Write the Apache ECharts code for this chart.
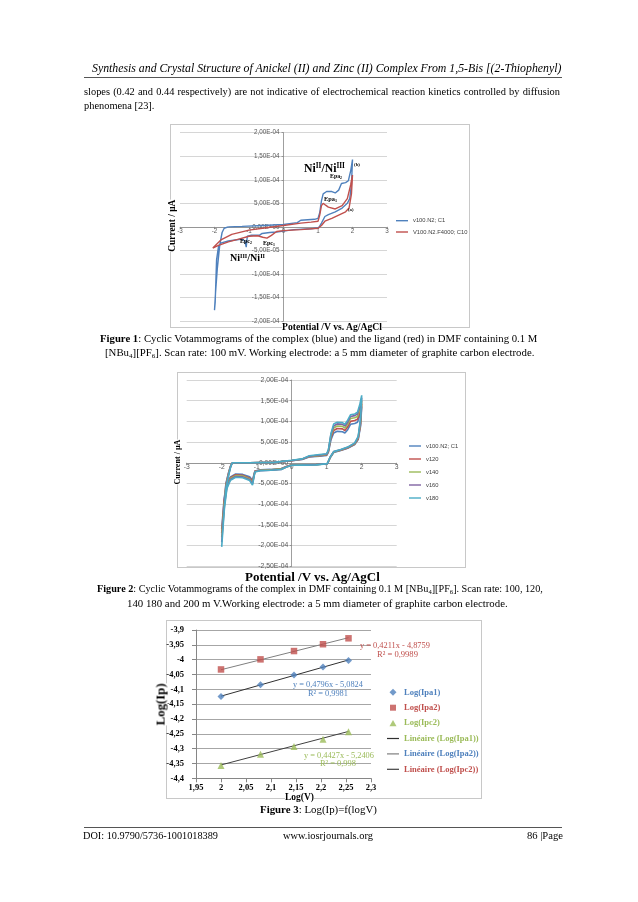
<!DOCTYPE html>
<html><head><meta charset="utf-8">
<script src="https://cdn.jsdelivr.net/npm/echarts@6/dist/echarts.min.js"></script>
<style>
html,body{margin:0;padding:0;background:#fff;}
#page{position:relative;width:638px;height:902px;overflow:hidden;background:#fff;}
#chart{position:absolute;left:0;top:0;width:638px;height:902px;z-index:1;}
.frame{position:absolute;border:1px solid #c8c8c8;box-sizing:border-box;z-index:0;}
.hr{position:absolute;height:0;border-top:1px solid #555;z-index:0;}
.t{position:absolute;white-space:nowrap;font-family:'Liberation Serif','DejaVu Serif',serif;font-size:10px;line-height:1;color:#000;z-index:2;}
.b{font-weight:bold;}
.bg{background:#fff;}
sub{font-size:.65em;vertical-align:-0.25em;line-height:0;}
sup{font-size:.62em;vertical-align:0.5em;line-height:0;}
</style></head>
<body>
<div id="page">
  <!-- page text -->
  <span class="t" style="font-style:italic" data-x="92" data-y="69" data-w="470">Synthesis and Crystal Structure of Anickel (II) and Zinc (II) Complex From 1,5-Bis [(2-Thiophenyl)</span>
  <div class="hr" style="left:84px;top:77px;width:478px;"></div>
  <div class="t" style="width:476px;white-space:normal;text-align:justify;text-align-last:justify;font-size:10.4px;" data-x="84" data-y="92">slopes (0.42 and 0.44 respectively) are not indicative of electrochemical reaction kinetics controlled by diffusion</div>
  <span class="t" style="font-size:10.4px;" data-x="84" data-y="106">phenomena [23].</span>

  <span class="t" data-x="100" data-y="338" data-w="438"><b>Figure 1</b>: Cyclic Votammograms of the complex (blue) and the ligand (red) in DMF containing 0.1 M</span>
  <span class="t" data-x="105" data-y="352" data-w="430">[NBu<sub>4</sub>][PF<sub>6</sub>]. Scan rate: 100 mV. Working electrode: a 5 mm diameter of graphite carbon electrode.</span>

  <span class="t" data-x="97" data-y="589.5" data-w="446"><b>Figure 2</b>: Cyclic Votammograms of the complex in DMF containing 0.1 M [NBu<sub>4</sub>][PF<sub>6</sub>]. Scan rate: 100, 120,</span>
  <span class="t" data-x="127" data-y="603" data-w="381">140 180 and 200 m V.Working electrode: a 5 mm diameter of graphite carbon electrode.</span>

  <span class="t" data-x="260" data-y="809" data-w="117"><b>Figure 3</b>: Log(Ip)=f(logV)</span>

  <div class="hr" style="left:84px;top:827px;width:478px;"></div>
  <span class="t" data-x="83" data-y="836" data-w="135">DOI: 10.9790/5736-1001018389</span>
  <span class="t" data-x="283" data-y="836" data-w="90">www.iosrjournals.org</span>
  <span class="t" data-x="527" data-y="836" data-w="36">86 |Page</span>

  <!-- chart frames -->
  <div class="frame" style="left:170px;top:124px;width:300px;height:204px;"></div>
  <div class="frame" style="left:177px;top:372px;width:289px;height:196px;"></div>
  <div class="frame" style="left:166px;top:620px;width:316px;height:179px;"></div>

  <div id="chart"></div>

  <!-- axis titles -->
  <span class="t b bg" data-x="282" data-y="327" data-w="100">Potential /V vs. Ag/AgCl</span>
  <span class="t b bg" data-rot="1" data-x="172.5" data-y="226" data-w="52">Current / µA</span>
  <span class="t b bg" data-x="245" data-y="577" data-w="135">Potential /V vs. Ag/AgCl</span>
  <span class="t b bg" data-rot="1" data-x="178" data-y="462" data-w="45">Current / µA</span>
  <span class="t b bg" data-rot="1" data-x="161" data-y="704" data-w="42">Log(Ip)</span>
  <span class="t b bg" data-x="285" data-y="798" data-w="29">Log(V)</span>

  <!-- figure 1 annotations -->
  <span class="t b" data-x="304" data-y="169" data-w="41">Ni<sup>II</sup>/Ni<sup>III</sup></span>
  <span class="t b" data-x="230" data-y="258" data-w="35">Ni<sup>III</sup>/Ni<sup>II</sup></span>
  <span class="t b" data-x="354" data-y="165.7" data-w="6">(b)</span>
  <span class="t b" data-x="348" data-y="210.7" data-w="5.5">(a)</span>
  <span class="t b" data-x="330" data-y="176.7" data-w="12">Epa<sub>2</sub></span>
  <span class="t b" data-x="324" data-y="199" data-w="13">Epa<sub>1</sub></span>
  <span class="t b" data-x="263" data-y="243" data-w="12">Epc<sub>1</sub></span>
  <span class="t b" data-x="240" data-y="241" data-w="12">Epc<sub>2</sub></span>

  <!-- figure 3 trendline equations -->
  <span class="t" style="color:#C0504D" data-x="360" data-y="646" data-w="70">y = 0,4211x - 4,8759</span>
  <span class="t" style="color:#C0504D" data-x="377" data-y="654" data-w="41">R² = 0,9989</span>
  <span class="t" style="color:#4F81BD" data-x="293" data-y="685" data-w="70">y = 0,4796x - 5,0824</span>
  <span class="t" style="color:#4F81BD" data-x="308" data-y="694" data-w="40">R² = 0,9981</span>
  <span class="t" style="color:#9BBB59" data-x="304" data-y="755.7" data-w="70">y = 0,4427x - 5,2406</span>
  <span class="t" style="color:#9BBB59" data-x="320" data-y="764.3" data-w="36">R² = 0,998</span>
</div>

<script>
// ---------------- DATA ----------------
// Figure 1 (current in units of 1E-05 A)
const potential1Complex = [-1.60,-1.20,-0.60,0.00,0.40,0.50,0.90,1.00,1.05,1.10,1.15,1.25,1.40,1.50,1.60,1.68,1.80,1.88,1.95,2.00,1.97,1.92,1.85,1.70,1.50,1.30,1.20,1.10,1.02,0.80,0.30,0.00,-0.20,-0.40,-0.62,-0.70,-0.95,-1.05,-1.08,-1.12,-1.20,-1.40,-1.60,-1.80,-1.88,-1.94,-1.98,-2.00,-1.97,-1.92,-1.85,-1.78,-1.72,-1.60];
const current1Complex = [0.0,0.1,0.3,0.5,0.9,1.4,1.6,1.8,3.0,5.5,7.0,7.5,7.5,7.2,7.8,9.2,9.4,9.8,12.0,14.3,9.0,6.0,5.0,4.0,3.2,2.6,2.2,0.8,-0.2,-0.4,-0.6,-0.9,-1.1,-1.2,-1.4,-1.8,-1.8,-2.0,-4.3,-3.0,-2.6,-2.8,-3.0,-3.4,-4.0,-7.0,-16.0,-17.7,-14.0,-9.0,-4.0,-1.2,-0.3,0.0];
const potential1Ligand = [-2.05,-1.80,-1.50,-1.00,-0.50,0.00,0.50,0.80,1.00,1.05,1.10,1.15,1.22,1.30,1.50,1.70,1.85,1.95,2.00,1.97,1.90,1.80,1.60,1.40,1.20,1.10,1.00,0.50,0.00,-0.20,-0.35,-0.48,-0.60,-0.75,-1.00,-1.30,-1.60,-1.90,-2.05];
const current1Ligand = [-4.5,-2.7,-1.6,-0.7,-0.2,0.3,0.8,1.0,1.2,2.5,4.5,5.0,4.6,4.2,3.8,4.5,6.0,9.0,11.0,7.0,4.0,3.2,2.5,1.8,1.2,0.3,-0.3,-0.6,-0.8,-1.0,-1.8,-2.4,-2.2,-1.9,-2.0,-2.6,-3.2,-4.0,-4.5];

// Figure 2 (current in units of 1E-05 A)
const potential2 = [-1.70,-1.20,-0.50,0.00,0.30,0.50,0.80,1.00,1.05,1.12,1.20,1.30,1.45,1.52,1.60,1.68,1.80,1.88,1.95,2.00,1.97,1.90,1.80,1.60,1.40,1.20,1.10,1.02,0.70,0.30,0.00,-0.15,-0.30,-0.60,-0.90,-1.05,-1.12,-1.20,-1.40,-1.60,-1.75,-1.85,-1.93,-2.00,-1.95,-1.88,-1.80,-1.75,-1.70];
const currentV100 = [0,0,0.1,0.5,0.8,1.4,1.6,1.8,2.6,5.5, 7.2,7.6,7.5,7.2,8.0,9.3,9.5,9.8,11.6,13.6, 9.0,5.6,4.4,3.5,3.0,2.5,1.2,-0.2,-0.4,-0.5, -0.5,-0.9,-1.4,-1.6,-1.7,-2.0,-4.2,-3.4,-2.8,-2.7, -3.4,-5.0,-8.5,-16.0,-11.5,-5.0,-2.2,-0.8,0];
const currentV120 = [0,0,0.1,0.5,0.85,1.5,1.7,1.9,2.8,6.0, 7.8,8.3,8.2,7.8,8.7,10.0,10.2,10.5,12.3,14.3, 9.5,5.8,4.5,3.6,3.05,2.6,1.3,-0.2,-0.4,-0.5, -0.5,-0.9,-1.5,-1.7,-1.8,-2.0,-4.5,-3.7,-3.0,-2.9, -3.6,-5.3,-9.2,-17.0,-12.2,-5.3,-2.4,-0.9,0];
const currentV140 = [0,0,0.1,0.55,0.9,1.55,1.8,2.0,3.0,6.4, 8.4,8.9,8.8,8.4,9.3,10.7,10.9,11.2,13.0,15.0, 10.0,6.0,4.6,3.7,3.1,2.6,1.3,-0.2,-0.45,-0.5, -0.55,-1.0,-1.5,-1.7,-1.8,-2.1,-4.8,-3.9,-3.2,-3.1, -3.8,-5.6,-10.0,-18.0,-12.8,-5.6,-2.6,-1.0,0];
const currentV160 = [0,0,0.1,0.55,0.9,1.6,1.9,2.1,3.1,6.8, 8.9,9.4,9.3,8.9,9.8,11.2,11.4,11.8,13.6,15.7, 10.5,6.2,4.7,3.75,3.15,2.7,1.4,-0.2,-0.45,-0.55, -0.6,-1.0,-1.6,-1.8,-1.9,-2.1,-5.1,-4.1,-3.4,-3.3, -4.0,-5.9,-10.8,-19.2,-13.5,-5.9,-2.8,-1.1,0];
const currentV180 = [0,0,0.1,0.6,0.95,1.7,2.0,2.2,3.2,7.0, 9.4,9.8,9.7,9.3,10.3,11.6,11.8,12.2,14.2,16.3, 11.0,6.4,4.8,3.8,3.2,2.7,1.4,-0.2,-0.5,-0.55, -0.6,-1.0,-1.6,-1.8,-1.9,-2.2,-5.4,-4.3,-3.6,-3.5, -4.2,-6.2,-11.5,-20.3,-14.2,-6.2,-3.0,-1.2,0];
const names2 = ['v100.N2; C1','v120','v140','v160','v180'];

// Figure 3
const logV = [2.000, 2.079, 2.146, 2.204, 2.255];
const logIpa1 = [-4.124, -4.085, -4.052, -4.025, -4.003];
const logIpa2 = [-4.033, -3.999, -3.971, -3.948, -3.928];
const logIpc2 = [-4.357, -4.319, -4.293, -4.268, -4.243];
const trendX = [2.000, 2.255];
const trendIpa1 = [-4.123, -4.001];
const trendIpa2 = [-4.034, -3.926];
const trendIpc2 = [-4.355, -4.242];

// ---------------- TEXT LAYOUT ----------------
document.querySelectorAll('.t').forEach(el => {
  if (el.dataset.w) {
    el.style.fontSize = '10px';
    const w0 = el.getBoundingClientRect().width;
    el.style.fontSize = (10 * (+el.dataset.w) / w0) + 'px';
  }
  const r = el.getBoundingClientRect();
  const x = +el.dataset.x, y = +el.dataset.y;
  if (el.dataset.rot) {
    el.style.left = (x - r.width / 2) + 'px';
    el.style.top = (y - r.height / 2) + 'px';
    el.style.transform = 'rotate(-90deg)';
  } else {
    el.style.left = x + 'px';
    el.style.top = (y - r.height / 2) + 'px';
  }
});

// ---------------- CHART ----------------
const zip = (xs, ys) => xs.map((x, i) => [x, ys[i]]);
function sci(v) {
  if (Math.abs(v) < 1e-9) return '0,00E+00';
  const a = v * 1e-5;
  const e = Math.floor(Math.log10(Math.abs(a)) + 1e-9);
  const m = a / Math.pow(10, e);
  return m.toFixed(2).replace('.', ',') + 'E' + (e < 0 ? '-' : '+') + String(Math.abs(e)).padStart(2, '0');
}
function dec(v) { return String(Math.round(v * 100) / 100).replace('.', ','); }

const sans = 'Liberation Sans';
const serif = 'Liberation Serif';
const axisGray = '#868686';

// axes crossing at zero are placed with offsets (grid sizes below)
function cvX(gi, fs, off) {
  return {gridIndex: gi, type: 'value', min: -3, max: 3, interval: 1, position: 'bottom', offset: off,
    axisLine: {show: true, onZero: false, lineStyle: {color: axisGray, width: 0.8}},
    axisTick: {show: true, length: 2, lineStyle: {color: axisGray, width: 0.8}},
    axisLabel: {fontFamily: sans, fontSize: fs, color: '#595959', margin: 1},
    splitLine: {show: false}};
}
function cvY(gi, mn, mx, fs, mg, off) {
  return {gridIndex: gi, type: 'value', min: mn, max: mx, interval: 5, position: 'left', offset: off,
    axisLine: {show: true, onZero: false, lineStyle: {color: axisGray, width: 0.8}},
    axisTick: {show: true, length: 2, lineStyle: {color: axisGray, width: 0.8}},
    axisLabel: {fontFamily: sans, fontSize: fs, color: '#595959', margin: mg, formatter: sci},
    splitLine: {show: true, lineStyle: {color: '#cccccc', width: 0.8}}};
}

const colors2 = ['#4F81BD', '#C0504D', '#9BBB59', '#8064A2', '#4BACC6'];
const currents2 = [currentV100, currentV120, currentV140, currentV160, currentV180];

const series = [
  {name: 'v100.N2; C1', type: 'line', xAxisIndex: 0, yAxisIndex: 0, symbol: 'none',
   data: zip(potential1Complex, current1Complex), lineStyle: {color: '#4F81BD', width: 1.4}, itemStyle: {color: '#4F81BD'}},
  {name: 'V100.N2.F4000; C10', type: 'line', xAxisIndex: 0, yAxisIndex: 0, symbol: 'none',
   data: zip(potential1Ligand, current1Ligand), lineStyle: {color: '#C0504D', width: 1.4}, itemStyle: {color: '#C0504D'}}
];
names2.forEach((n, i) => series.push({
  name: n, type: 'line', xAxisIndex: 1, yAxisIndex: 1, symbol: 'none',
  data: zip(potential2, currents2[i]), lineStyle: {color: colors2[i], width: 1.6}, itemStyle: {color: colors2[i]}
}));
series.push(
  {name: 'Linéaire (Log(Ipa1))', type: 'line', xAxisIndex: 2, yAxisIndex: 2, symbol: 'none', z: 2,
   data: zip(trendX, trendIpa1), lineStyle: {color: '#303030', width: 1}, itemStyle: {color: '#303030'}},
  {name: 'Linéaire (Log(Ipa2))', type: 'line', xAxisIndex: 2, yAxisIndex: 2, symbol: 'none', z: 2,
   data: zip(trendX, trendIpa2), lineStyle: {color: '#7f7f7f', width: 1}, itemStyle: {color: '#7f7f7f'}},
  {name: 'Linéaire (Log(Ipc2))', type: 'line', xAxisIndex: 2, yAxisIndex: 2, symbol: 'none', z: 2,
   data: zip(trendX, trendIpc2), lineStyle: {color: '#404040', width: 1}, itemStyle: {color: '#404040'}},
  {name: 'Log(Ipa1)', type: 'scatter', xAxisIndex: 2, yAxisIndex: 2, symbol: 'diamond', symbolSize: 7, z: 3,
   data: zip(logV, logIpa1), itemStyle: {color: '#4F81BD'}},
  {name: 'Log(Ipa2)', type: 'scatter', xAxisIndex: 2, yAxisIndex: 2, symbol: 'rect', symbolSize: 6.5, z: 3,
   data: zip(logV, logIpa2), itemStyle: {color: '#C0504D'}},
  {name: 'Log(Ipc2)', type: 'scatter', xAxisIndex: 2, yAxisIndex: 2, symbol: 'triangle', symbolSize: 7, z: 3,
   data: zip(logV, logIpc2), itemStyle: {color: '#9BBB59'}}
);

const legTxt = {fontFamily: sans, fontSize: 5.8, color: '#404040', lineHeight: 7};
const legTxt3 = {fontFamily: serif, fontWeight: 'bold', fontSize: 8.5, lineHeight: 10};
// legend icons: bounding box fixed with move-to corners so nothing stretches
const iconLine5 = 'path://M0,0M12,5M0,1.8H12V3.2H0Z';
const iconLine7 = 'path://M0,0M12,7M0,2.9H12V4.1H0Z';
const iconDiamond = 'path://M0,0M12,7M6,0L9.5,3.5L6,7L2.5,3.5Z';
const iconSquare = 'path://M0,0M12,7M3,0.5H9V6.5H3Z';
const iconTriangle = 'path://M0,0M12,7M6,0.3L9.5,6.7L2.5,6.7Z';

const option = {
  animation: false,
  grid: [
    {left: 180, top: 132.7, width: 207, height: 188.3, outerBoundsMode: 'none'},
    {left: 186.7, top: 380, width: 210, height: 186.3, outerBoundsMode: 'none'},
    {left: 196, top: 630, width: 175, height: 148.3, outerBoundsMode: 'none'}
  ],
  xAxis: [
    cvX(0, 6.3, -94.15), cvX(1, 6.8, -103.5),
    {gridIndex: 2, type: 'value', min: 1.95, max: 2.3, interval: 0.05, position: 'bottom',
     axisLine: {show: true, onZero: false, lineStyle: {color: axisGray}},
     axisTick: {show: true, length: 4, lineStyle: {color: axisGray}},
     axisLabel: {fontFamily: serif, fontWeight: 'bold', fontSize: 8.5, color: '#000', margin: 5, formatter: dec},
     splitLine: {show: false}}
  ],
  yAxis: [
    cvY(0, -20, 20, 6.3, 4, -103.5), cvY(1, -25, 20, 6.8, 3.5, -105),
    {gridIndex: 2, type: 'value', min: -4.4, max: -3.9, interval: 0.05, position: 'left',
     axisLine: {show: true, onZero: false, lineStyle: {color: axisGray}},
     axisTick: {show: true, length: 4, lineStyle: {color: axisGray}},
     axisLabel: {fontFamily: serif, fontWeight: 'bold', fontSize: 8.5, color: '#000', margin: 12, formatter: dec},
     splitLine: {show: true, lineStyle: {color: '#a6a6a6'}}}
  ],
  legend: [
    {left: 396, top: 217.2, orient: 'vertical', padding: 0, itemWidth: 12, itemHeight: 5, itemGap: 4.3,
     icon: iconLine5, selectedMode: false, textStyle: legTxt, data: ['v100.N2; C1', 'V100.N2.F4000; C10']},
    {left: 409, top: 442.5, orient: 'vertical', padding: 0, itemWidth: 12, itemHeight: 5, itemGap: 6,
     icon: iconLine5, selectedMode: false, textStyle: legTxt, data: names2},
    {left: 387, top: 687.3, orient: 'vertical', padding: 0, itemWidth: 12, itemHeight: 7, itemGap: 5.4,
     selectedMode: false, textStyle: legTxt3,
     data: [
       {name: 'Log(Ipa1)', icon: iconDiamond, textStyle: {color: '#4F81BD'}},
       {name: 'Log(Ipa2)', icon: iconSquare, textStyle: {color: '#C0504D'}},
       {name: 'Log(Ipc2)', icon: iconTriangle, textStyle: {color: '#9BBB59'}},
       {name: 'Linéaire (Log(Ipa1))', icon: iconLine7, textStyle: {color: '#9BBB59'}},
       {name: 'Linéaire (Log(Ipa2))', icon: iconLine7, textStyle: {color: '#4F81BD'}},
       {name: 'Linéaire (Log(Ipc2))', icon: iconLine7, textStyle: {color: '#C0504D'}}
     ]}
  ],
  series: series
};

const chart = echarts.init(document.getElementById('chart'), null, {renderer: 'canvas'});
chart.setOption(option);
</script>
</body></html>
